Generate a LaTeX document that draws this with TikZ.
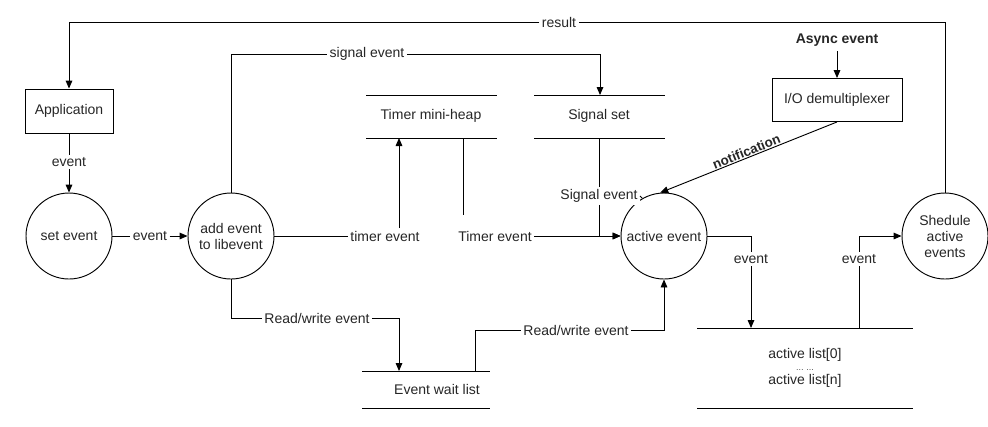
\documentclass[tikz,border=0pt]{standalone}
\usepackage{fontspec}
\setmainfont{Liberation Sans}
\usetikzlibrary{arrows.meta}
\begin{document}
\begin{tikzpicture}[x=0.75pt,y=-0.75pt,
  font=\fontsize{10.5}{12}\selectfont,
  line width=0.7pt, text=black!85,
  arr/.style={-{Triangle[length=6pt,width=5pt]}},
  proc/.style={circle,draw,minimum size=86*0.75pt,inner sep=0pt,align=center},
  boxn/.style={draw,inner sep=0pt,align=center},
  lbl/.style={fill=white,inner sep=1.5pt},
  store/.style={inner sep=0pt}]
\useasboundingbox (0,0) rectangle (988,426);
% nodes
\node[boxn,minimum width=88*0.75pt,minimum height=44*0.75pt] (app) at (69,111) {Application};
\node[proc] (set) at (69,236) {set event};
\node[proc] (add) at (231,236) {add event\\to libevent};
\node[proc] (act) at (664,236) {active event};
\node[proc] (sch) at (945,236) {Shedule\\active\\events};
\node[boxn,minimum width=130*0.75pt,minimum height=43*0.75pt] (io) at (837,100) {I/O demultiplexer};
\node[font=\fontsize{10.5}{12}\selectfont\bfseries] (async) at (837,40) {Async event};
% stores
\node[store] (tmh) at (431,116) {Timer mini-heap};
\draw (366,95) -- (497,95) (366,138) -- (497,138);
\node[store] (sig) at (599,116) {Signal set};
\draw (534,95) -- (665,95) (534,138) -- (665,138);
\node[store] (ewl) at (437,389) {Event wait list};
\draw (362,371) -- (490,371) (362,408) -- (490,408);
\node[store,align=center] (al) at (805,368) {active list[0]\\[-3pt]{\fontsize{6}{6}\selectfont\dots\ \dots}\\[-2pt]active list[n]};
\draw (697,328) -- (913,328) (697,408) -- (913,408);
\coordinate (tmhb) at (399,138); \coordinate (tmhb2) at (463,138);
\coordinate (sigt) at (600,95); \coordinate (sigb) at (599,138);
\coordinate (ewlt) at (399,371); \coordinate (ewlt2) at (475,371);
\coordinate (alt) at (751,328); \coordinate (alt2) at (859,328);
% labels
\node[lbl] (lres) at (559,22) {result};
\node[lbl] (lev1) at (69,162) {event};
\node[lbl] (lev2) at (150,236) {event};
\node[lbl] (lsig) at (367,54) {signal event};
\node[lbl] (ltim) at (385,236) {timer event};
\node[lbl] (lTim) at (495,236) {Timer event};
\node[lbl] (lSig) at (599,196) {Signal event};
\node[lbl] (lrw1) at (317,318) {Read/write event};
\node[lbl] (lrw2) at (576,330) {Read/write event};
\node[lbl] (lev3) at (751,259) {event};
\node[lbl] (lev4) at (859,259) {event};
% connectors
\draw (sch.north) |- (lres.east);
\draw[arr] (lres.west) -| (app.north);
\draw (app.south) -- (lev1.north);
\draw[arr] (lev1.south) -- (set.north);
\draw (set.east) -- (lev2.west);
\draw[arr] (lev2.east) -- (add.west);
\draw (add.north) |- (lsig.west);
\draw[arr] (lsig.east) -| (sigt);
\draw (add.east) -- (ltim.west);
\draw[arr] (ltim.east -| tmhb) ++(0,-8) -- (tmhb);
\draw (tmhb2) -- ++(0,77);
\draw[arr] (lTim.east) -- (act.west);
\draw (sigb) -- (lSig.north);
\draw[arr] (lSig.south) |- (act.west);
\draw (lSig.east) -- (act.120);
\draw[arr] (async.south) -- (io.north);
\draw[arr] (io.south) -- node[sloped,above,font=\fontsize{10}{11}\selectfont\bfseries,inner sep=0.5pt,pos=0.5] {notification} (act.95);
\draw (add.south) |- (lrw1.west);
\draw[arr] (lrw1.east) -| (ewlt);
\draw (ewlt2) |- (lrw2.west);
\draw[arr] (lrw2.east) -| (act.south);
\draw (act.east) -| (lev3.north);
\draw[arr] (lev3.south) -- (alt);
\draw (alt2) -- (lev4.south);
\draw[arr] (lev4.north) |- (sch.west);
\end{tikzpicture}
\end{document}
